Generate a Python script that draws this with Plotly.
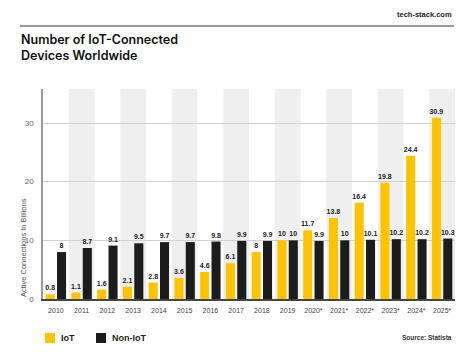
import plotly.graph_objects as go

years = ["2010", "2011", "2012", "2013", "2014", "2015", "2016", "2017", "2018",
         "2019", "2020*", "2021*", "2022*", "2023*", "2024*", "2025*"]
iot = [0.8, 1.1, 1.6, 2.1, 2.8, 3.6, 4.6, 6.1, 8, 10, 11.7, 13.8, 16.4, 19.8, 24.4, 30.9]
non_iot = [8, 8.7, 9.1, 9.5, 9.7, 9.7, 9.8, 9.9, 9.9, 10, 9.9, 10, 10.1, 10.2, 10.2, 10.3]

YELLOW = "#FFC300"
BLACK = "#1c1c1c"
FONT = "Liberation Sans"

fig = go.Figure()
for vals, name, col in [(iot, "IoT", YELLOW), (non_iot, "Non-IoT", BLACK)]:
    fig.add_trace(go.Bar(x=years, y=vals, name=name, marker=dict(color=col, line=dict(width=0)),
                         text=[str(v) for v in vals], textposition="outside",
                         constraintext="none",
                         textfont=dict(size=7, color="#222", family=FONT, weight="bold"),
                         cliponaxis=False, showlegend=False))

shapes = []
for i in range(1, len(years), 2):
    shapes.append(dict(type="rect", xref="x", yref="paper", x0=i - 0.5, x1=i + 0.5, y0=0, y1=1,
                       fillcolor="#efefef", line=dict(width=0), layer="below"))

fig.update_layout(
    width=474, height=363,
    margin=dict(l=43, r=19, t=89, b=64),
    paper_bgcolor="white", plot_bgcolor="white",
    barmode="group", bargap=0.12, bargroupgap=0.2,
    font=dict(family=FONT, color="#333"),
    shapes=shapes,
    xaxis=dict(type="category", showgrid=False, showline=True, linecolor="#444", linewidth=1.5,
               tickfont=dict(size=7, color="#444"), ticks="", ticklabelstandoff=4),
    yaxis=dict(range=[0, 35.8], tickvals=[0, 10, 20, 30], showgrid=True, gridcolor="#d0d0d0",
               gridwidth=1, zeroline=False, showline=True, linecolor="#999", linewidth=1.5,
               tickfont=dict(size=8, color="#666"), ticks="", ticklabelstandoff=6,
               layer="above traces"),
)


def px(x):
    return (x - 43) / 412


def py(y):
    return (299 - y) / 210


fig.add_shape(type="line", xref="paper", yref="paper",
              x0=px(20), x1=px(454), y0=py(26), y1=py(26),
              line=dict(color="#9a9a9a", width=2))

anns = [
    dict(text="tech-stack.com", x=px(454), y=py(15), xanchor="right", yanchor="middle",
         font=dict(size=7.5, color="#222", family=FONT, weight="bold")),
    dict(text="Number of IoT-Connected<br>Devices Worldwide", x=px(19), y=py(47), xanchor="left",
         yanchor="middle", align="left",
         font=dict(size=12.5, color="#111", family="Inter", weight=600)),
    dict(text="Active Connections In Billions", x=px(23), y=py(248), xanchor="center",
         yanchor="middle", textangle=-90, font=dict(size=7.5, color="#555", family=FONT)),
    dict(text="IoT", x=px(59), y=py(338), xanchor="left", yanchor="middle",
         font=dict(size=9, color="#222", family=FONT, weight="bold")),
    dict(text="Non-IoT", x=px(110), y=py(338), xanchor="left", yanchor="middle",
         font=dict(size=9, color="#222", family=FONT, weight="bold")),
    dict(text="Source: Statista", x=px(454), y=py(337), xanchor="right", yanchor="middle",
         font=dict(size=6.5, color="#333", family=FONT, weight="bold")),
]
for a in anns:
    a.update(xref="paper", yref="paper", showarrow=False)
    fig.add_annotation(**a)

fig.add_shape(type="rect", xref="paper", yref="paper", x0=px(45), x1=px(55), y0=py(333), y1=py(343),
              fillcolor=YELLOW, line=dict(width=0))
fig.add_shape(type="rect", xref="paper", yref="paper", x0=px(96), x1=px(106), y0=py(333), y1=py(343),
              fillcolor=BLACK, line=dict(width=0))

fig.write_html("out.html", config={"displayModeBar": False},
               post_script="document.body.style.margin='0';")
